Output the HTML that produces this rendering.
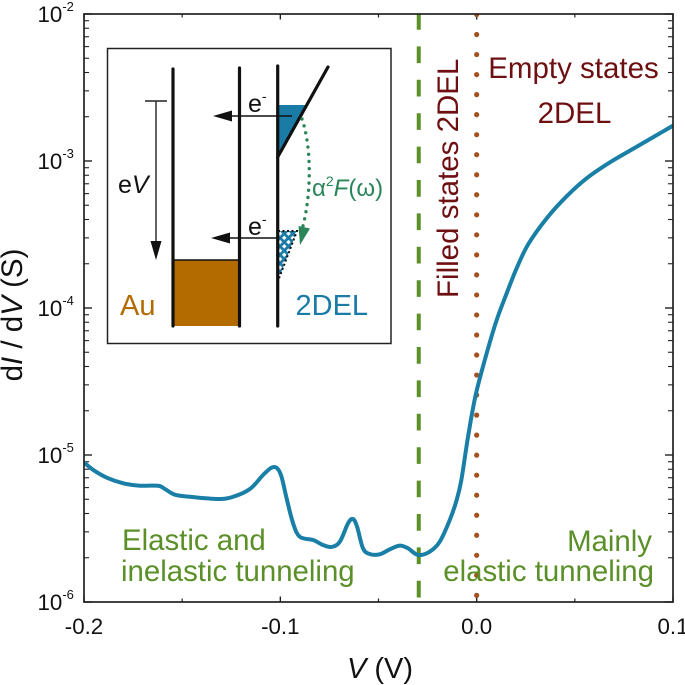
<!DOCTYPE html>
<html lang="en">
<head>
<meta charset="utf-8">
<title>Tunneling spectrum</title>
<style>
html,body{margin:0;padding:0;background:#fff;width:685px;height:685px;overflow:hidden}
svg{display:block;filter:blur(0.35px)}
text{font-family:"Liberation Sans",Arial,sans-serif}
</style>
</head>
<body>
<svg id="chart" xmlns="http://www.w3.org/2000/svg" width="685" height="685" viewBox="0 0 685 685">
  <defs>
    <pattern id="hatch" patternUnits="userSpaceOnUse" width="6" height="6" patternTransform="rotate(45)">
      <rect width="6" height="6" fill="#1a7ba6"/>
      <rect x="1.6" y="1.6" width="3.2" height="3.2" fill="#fff"/>
    </pattern>
    <clipPath id="plot-clip"><rect x="84" y="14" width="589" height="588"/></clipPath>
  </defs>
  <rect width="685" height="685" fill="#fff"/>
  <g id="ticks"></g>
  <g id="tick-labels"></g>
  <g id="markers" clip-path="url(#plot-clip)"></g>

  <text transform="translate(458,298) rotate(-90)" font-size="29.5" fill="#6e0f12">Filled states 2DEL</text>
  <text x="573.5" y="78" text-anchor="middle" font-size="29.5" fill="#6e0f12">Empty states</text>
  <text x="574.5" y="123" text-anchor="middle" font-size="29.5" fill="#6e0f12">2DEL</text>
  <text x="122" y="550" font-size="29.4" fill="#5b8f28">Elastic and</text>
  <text x="121" y="581" font-size="29.4" fill="#5b8f28">inelastic tunneling</text>
  <text x="652" y="551" text-anchor="end" font-size="29.4" fill="#5b8f28">Mainly</text>
  <text x="654" y="581" text-anchor="end" font-size="29.4" fill="#5b8f28">elastic tunneling</text>

  <path id="curve" fill="none" stroke="#1a7fa6" stroke-width="4" stroke-linejoin="round" stroke-linecap="round" clip-path="url(#plot-clip)"/>
  <rect x="84" y="14" width="589" height="588" fill="none" stroke="#222" stroke-width="1.7"/>

  <text transform="translate(22,315) rotate(-90)" text-anchor="middle" font-size="29.5" fill="#111">d<tspan font-style="italic">I</tspan> / d<tspan font-style="italic">V</tspan> (S)</text>
  <text x="380" y="678" text-anchor="middle" font-size="29" fill="#111"><tspan font-style="italic">V</tspan> (V)</text>

  <g>
    <rect x="107.5" y="48.5" width="283.5" height="295" fill="#fff" stroke="#222" stroke-width="1.5"/>
    <rect x="173" y="260" width="66.5" height="66" fill="#b36b00"/>
    <line x1="173" y1="260" x2="240" y2="260" stroke="#111" stroke-width="1.4"/>
    <polygon points="278,105 305,105 278,155" fill="#1a7ba6"/>
    <polygon points="278,231 297,231 278,281" fill="url(#hatch)" stroke="#111" stroke-width="2" stroke-dasharray="2 2.5"/>
    <line x1="173" y1="69" x2="173" y2="326" stroke="#111" stroke-width="3.2" stroke-linecap="round"/>
    <line x1="239.5" y1="68" x2="239.5" y2="326" stroke="#111" stroke-width="3.2" stroke-linecap="round"/>
    <line x1="277.7" y1="66" x2="277.7" y2="326" stroke="#111" stroke-width="3.2" stroke-linecap="round"/>
    <line x1="277.7" y1="157" x2="328" y2="67" stroke="#111" stroke-width="3.2" stroke-linecap="round"/>
    <line x1="292" y1="116" x2="228" y2="116" stroke="#111" stroke-width="1.4"/>
    <polygon points="213,116 232,110.5 232,121.5" fill="#111"/>
    <line x1="278" y1="238" x2="226" y2="238" stroke="#111" stroke-width="1.4"/>
    <polygon points="211,238 230,232.5 230,243.5" fill="#111"/>
    <text x="248" y="112" font-size="25" fill="#111">e<tspan font-size="14" dy="-11">-</tspan></text>
    <text x="248" y="235" font-size="25" fill="#111">e<tspan font-size="14" dy="-11">-</tspan></text>
    <line x1="145" y1="101" x2="167" y2="101" stroke="#222" stroke-width="1.4"/>
    <line x1="156" y1="101" x2="156" y2="245" stroke="#222" stroke-width="1.4"/>
    <polygon points="156,260 150.5,241 161.5,241" fill="#111"/>
    <text x="118" y="193" font-size="25" fill="#111">e<tspan font-style="italic">V</tspan></text>
    <path d="M302,119 C311,145 312,190 303,226" fill="none" stroke="#2a8558" stroke-width="3.4" stroke-linecap="round" stroke-dasharray="0 7.2"/>
    <polygon points="298.5,226 310,228.5 300,245" fill="#2a8558"/>
    <text x="312" y="196" font-size="24" fill="#2a8558">&#945;<tspan font-size="14" dy="-10">2</tspan><tspan font-style="italic" dy="10">F</tspan>(&#969;)</text>
    <text x="120" y="315" font-size="29" fill="#b36b00">Au</text>
    <text x="295.5" y="315" font-size="29" fill="#1a7ba6">2DEL</text>
  </g>
</svg>
<script>
// Measured tunneling conductance: bias voltage (V) and dI/dV (S)
const voltage = [-0.2,-0.1953,-0.1884,-0.18,-0.1715,-0.1622,-0.1588,-0.1537,-0.1461,-0.1317,-0.124,-0.1155,-0.1088,-0.1045,-0.1016,-0.0994,-0.0968,-0.0935,-0.0901,-0.0833,-0.0782,-0.0739,-0.0697,-0.0655,-0.063,-0.0609,-0.0579,-0.0545,-0.0494,-0.0443,-0.0392,-0.035,-0.0299,-0.0239,-0.0188,-0.0137,-0.0102,-0.0078,-0.0044,-0.0005,0.0051,0.0102,0.0153,0.0204,0.0263,0.0357,0.0458,0.056,0.0679,0.0815,0.0917,0.1];
const conductance = [8.9e-6,7.91e-6,7.01e-6,6.42e-6,6.18e-6,6.18e-6,5.87e-6,5.37e-6,5.2e-6,5.02e-6,5.2e-6,5.87e-6,7.31e-6,8.2e-6,8.12e-6,7.12e-6,5.07e-6,3.43e-6,2.78e-6,2.64e-6,2.44e-6,2.37e-6,2.57e-6,3.43e-6,3.67e-6,3.25e-6,2.32e-6,2.12e-6,2.11e-6,2.28e-6,2.42e-6,2.32e-6,2.09e-6,2.2e-6,2.57e-6,3.61e-6,4.94e-6,6.76e-6,1.33e-5,2.56e-5,4.92e-5,8.29e-5,1.26e-4,1.87e-4,2.72e-4,4.08e-4,5.75e-4,7.63e-4,9.8e-4,1.25e-3,1.5e-3,1.74e-3];
const xMajorTicks = [-0.2,-0.1,0,0.1];
const xMinorTicks = [-0.15,-0.05,0.05];
const xTickLabels = ["-0.2","-0.1","0.0","0.1"];
const yDecades = [-6,-5,-4,-3,-2];
const yMinorMultipliers = [2,3,4,5,6,7,8,9];
const yTickLabelExponents = ["-6","-5","-4","-3","-2"];
const filledStatesEdge = -0.0295;
const fermiLevel = 0;

const NS = "http://www.w3.org/2000/svg";
const plot = {left:84,right:673,top:14,bottom:602};
function xScale(v){return plot.left+(v-(-0.2))/(0.1-(-0.2))*(plot.right-plot.left);}
function yScale(g){return plot.bottom-(Math.log10(g)-(-6))/((-2)-(-6))*(plot.bottom-plot.top);}
function make(tag,parent){const el=document.createElementNS(NS,tag);parent.appendChild(el);return el;}
function setLine(el,x1,y1,x2,y2,color,width){
  el.setAttribute("x1",x1);el.setAttribute("y1",y1);el.setAttribute("x2",x2);el.setAttribute("y2",y2);
  el.setAttribute("stroke",color);el.setAttribute("stroke-width",width);
}

const tickGroup=document.getElementById("ticks");
const labelGroup=document.getElementById("tick-labels");

// x ticks, bottom and top
xMajorTicks.forEach(function(v){
  const x=xScale(v);
  const b=make("line",tickGroup);
  
  
  setLine(b,x,plot.bottom,x,plot.bottom-5.5,"#222",1.4);
  const t=make("line",tickGroup);
  
  
  setLine(t,x,plot.top,x,plot.top+5.5,"#222",1.4);
});
xMinorTicks.forEach(function(v){
  const x=xScale(v);
  const b=make("line",tickGroup);
  
  
  setLine(b,x,plot.bottom,x,plot.bottom-3.5,"#222",1.2);
  const t=make("line",tickGroup);
  
  
  setLine(t,x,plot.top,x,plot.top+3.5,"#222",1.2);
});
xTickLabels.forEach(function(label,i){
  const t=make("text",labelGroup);
  
  
  t.setAttribute("x",xScale(xMajorTicks[i]));
  t.setAttribute("y",634);
  t.setAttribute("text-anchor","middle");
  t.setAttribute("font-size",22.3);
  t.setAttribute("fill","#111");
  t.textContent=label;
});

// y ticks, left and right
yDecades.forEach(function(d,i){
  const y=yScale(Math.pow(10,d));
  const l=make("line",tickGroup);
  
  
  setLine(l,plot.left,y,plot.left+8,y,"#222",1.4);
  const r=make("line",tickGroup);
  
  
  setLine(r,plot.right,y,plot.right-8,y,"#222",1.4);

  const t=make("text",labelGroup);
  
  
  t.setAttribute("x",37.5);
  t.setAttribute("y",y+8);
  t.setAttribute("font-size",22.3);
  t.setAttribute("fill","#111");
  t.textContent="10";
  const s=make("tspan",t);
  s.setAttribute("font-size",13);
  s.setAttribute("dy",-11);
  s.textContent=yTickLabelExponents[i];

  if(d<-2){
    yMinorMultipliers.forEach(function(m){
      const ym=yScale(m*Math.pow(10,d));
      const ml=make("line",tickGroup);
      
      
      setLine(ml,plot.left,ym,plot.left+5,ym,"#222",1.1);
      const mr=make("line",tickGroup);
      
      
      setLine(mr,plot.right,ym,plot.right-5,ym,"#222",1.1);
    });
  }
});

// vertical markers
const markerGroup=document.getElementById("markers");
const edgeLine=make("line",markerGroup);


setLine(edgeLine,xScale(filledStatesEdge),plot.top-1,xScale(filledStatesEdge),plot.bottom,"#5b9127",4);
edgeLine.setAttribute("stroke-dasharray","16.7 16.7");
const fermiLine=make("line",markerGroup);


setLine(fermiLine,xScale(fermiLevel),plot.top+0.5,xScale(fermiLevel),plot.bottom,"#a5501f",5.2);
fermiLine.setAttribute("stroke-dasharray","0 20.03");
fermiLine.setAttribute("stroke-linecap","round");

// curve (smooth path through the measured points)
const pts=voltage.map(function(v,i){return [xScale(v),yScale(conductance[i])];});
let d="M"+pts[0][0].toFixed(2)+" "+pts[0][1].toFixed(2);
for(let i=0;i<pts.length-1;i++){
  const p0=pts[Math.max(i-1,0)],p1=pts[i],p2=pts[i+1],p3=pts[Math.min(i+2,pts.length-1)];
  const c1x=p1[0]+(p2[0]-p0[0])/6,c1y=p1[1]+(p2[1]-p0[1])/6;
  const c2x=p2[0]-(p3[0]-p1[0])/6,c2y=p2[1]-(p3[1]-p1[1])/6;
  d+=" C"+c1x.toFixed(2)+" "+c1y.toFixed(2)+" "+c2x.toFixed(2)+" "+c2y.toFixed(2)+" "+p2[0].toFixed(2)+" "+p2[1].toFixed(2);
}
document.getElementById("curve").setAttribute("d",d);
</script>
</body>
</html>
